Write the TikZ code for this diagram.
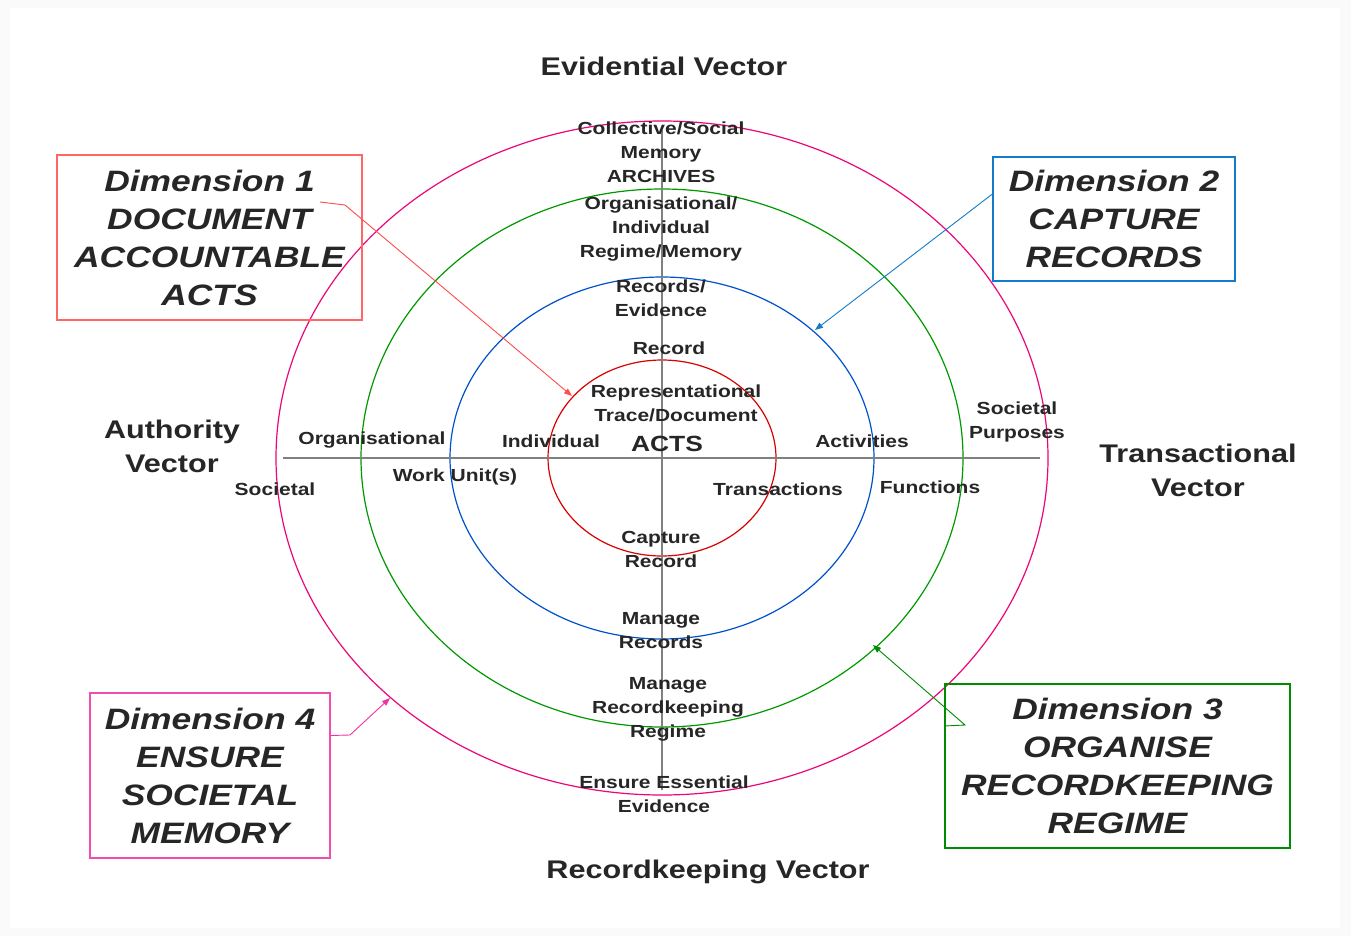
\documentclass[tikz,border=0pt]{standalone}
\usepackage{fontspec}
\setmainfont{Liberation Sans}[FakeStretch=1.2]
\usetikzlibrary{arrows.meta}
\begin{document}
\begin{tikzpicture}[x=1pt,y=-1pt,
 lab/.style={font=\bfseries\fontsize{17.5}{24}\selectfont,align=center,inner sep=0pt,text=black!85},
 vec/.style={font=\bfseries\fontsize{25.5}{34}\selectfont,align=center,inner sep=0pt,text=black!85},
 dim/.style={draw,line width=1.2pt,font=\bfseries\itshape\fontsize{29.5}{38}\selectfont,align=center,text=black!85},
 conn/.style={line width=0.9pt,-{Triangle[length=8pt,width=6pt]}}]
\fill[white!96!gray] (0,0) rectangle (1351,936);
\fill[white] (10,8) rectangle (1340,928);
\useasboundingbox (0,0) rectangle (1351,936);
\coordinate (c) at (662,458);
\draw[line width=1.2pt,magenta!80!red] (c) ellipse [x radius=386,y radius=337];
\draw[line width=1.2pt,green!60!black] (c) ellipse [x radius=301,y radius=269];
\draw[line width=1.2pt,blue!60!cyan!80!black] (c) ellipse [x radius=212,y radius=181];
\draw[line width=1.2pt,red!85!black] (c) ellipse [x radius=114,y radius=98];
\coordinate (hl) at (283,458); \coordinate (hr) at (1040,458);
\coordinate (vt) at (662,130); \coordinate (vb) at (662,790);
\draw[line width=1.5pt,gray] (hl) -- (hr);
\draw[line width=1.5pt,gray] (vt) -- (vb);
\node[vec] (ev) at (664,66) {Evidential Vector};
\node[vec] (rv) at (708,872) {Recordkeeping Vector};
\node[vec] (av) at (172,446) {Authority\\Vector};
\node[vec] (tv) at (1198,470) {Transactional\\Vector};
\node[lab] at (661,152) {Collective/Social\\Memory\\ARCHIVES};
\node[lab] at (661,229) {Organisational/\\Individual\\Regime/Memory};
\node[lab] at (661,298) {Records/\\Evidence};
\node[lab] at (669,348) {Record};
\node[lab] at (676,403) {Representational\\Trace/Document};
\node[lab,font=\bfseries\fontsize{22}{24}\selectfont] at (667,444) {ACTS};
\node[lab] at (551,441) {Individual};
\node[lab] at (372,440) {Organisational};
\node[lab] at (275,489) {Societal};
\node[lab] at (455,477) {Work Unit(s)};
\node[lab] at (862,441) {Activities};
\node[lab] at (1017,422) {Societal\\Purposes};
\node[lab] at (778,489) {Transactions};
\node[lab] at (930,487) {Functions};
\node[lab] at (661,549) {Capture\\Record};
\node[lab] at (661,631) {Manage\\Records};
\node[lab] at (668,709) {Manage\\Recordkeeping\\Regime};
\node[lab] at (664,794) {Ensure Essential\\Evidence};
\node[dim,draw=red!60,minimum width=305,minimum height=165] (d1) at (209.5,237.5) {Dimension 1\\DOCUMENT\\ACCOUNTABLE\\ACTS};
\node[dim,draw=cyan!60!blue,minimum width=242,minimum height=124] (d2) at (1114,219) {Dimension 2\\CAPTURE\\RECORDS};
\node[dim,draw=green!55!black,minimum width=345,minimum height=164] (d3) at (1117.5,766) {Dimension 3\\ORGANISE\\RECORDKEEPING\\REGIME};
\node[dim,draw=magenta!70,minimum width=240,minimum height=165] (d4) at (210,775.5) {Dimension 4\\ENSURE\\SOCIETAL\\MEMORY};
\coordinate (a1) at (572,396); \coordinate (a2) at (815,330);
\coordinate (a3) at (873,645); \coordinate (a4) at (390,698);
\draw[conn,red!70] (320,202) -- (345,205) -- (a1);
\draw[conn,cyan!60!blue] (d2.west) ++(0,-25) -- (a2);
\draw[conn,green!55!black] (d3.west) ++(0,-40) -- (965,725) -- (a3);
\draw[conn,magenta!80] (d4.east) ++(0,-40) -- (350,735) -- (a4);
\end{tikzpicture}
\end{document}
